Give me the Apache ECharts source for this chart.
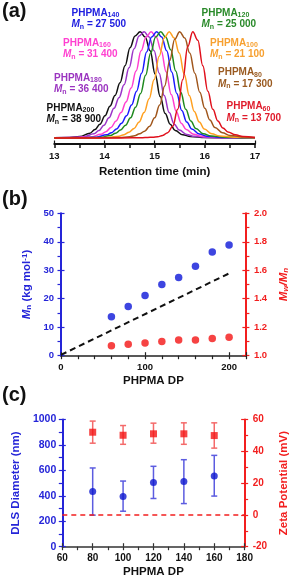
<!DOCTYPE html>
<html><head><meta charset="utf-8">
<script src="https://cdn.jsdelivr.net/npm/echarts@6/dist/echarts.min.js"></script>
<style>html,body{margin:0;padding:0;background:#fff}#c{width:298px;height:580px}</style>
</head><body><div id="c"></div>
<script>
// ---------------- Panel (a): GPC traces (retention time, normalised RI) ----------------
const gpcTickLabels = [13, 14, 15, 16, 17];
const gpcDP = ['200', '180', '160', '140', '120', '100', '80', '60'];
const gpcMn = ['38 900', '36 400', '31 400', '27 500', '25 000', '21 100', '17 300', '13 700'];
const trace200 = [[13.0,0.002],[13.3,0.006],[13.51,0.015],[13.71,0.045],[13.81,0.08],[13.91,0.13],[14.01,0.21],[14.11,0.30],[14.21,0.40],[14.31,0.52],[14.41,0.68],[14.51,0.85],[14.61,0.96],[14.71,1],[14.81,0.95],[14.91,0.82],[15.01,0.60],[15.11,0.39],[15.21,0.23],[15.31,0.13],[15.41,0.07],[15.56,0.03],[15.71,0.015],[16.01,0.005],[16.5,0.002],[17.0,0.001]];
const trace180 = [[13.0,0.002],[13.3,0.005],[13.59,0.012],[13.79,0.04],[13.89,0.07],[13.99,0.12],[14.09,0.19],[14.19,0.28],[14.29,0.38],[14.39,0.50],[14.49,0.66],[14.59,0.84],[14.69,0.96],[14.79,1],[14.89,0.95],[14.99,0.82],[15.09,0.61],[15.19,0.40],[15.29,0.24],[15.39,0.13],[15.49,0.075],[15.64,0.033],[15.79,0.016],[16.09,0.005],[16.6,0.002],[17.0,0.001]];
const trace160 = [[13.0,0.001],[13.4,0.004],[13.73,0.01],[13.93,0.035],[14.03,0.06],[14.13,0.10],[14.23,0.16],[14.33,0.24],[14.43,0.34],[14.53,0.47],[14.63,0.63],[14.73,0.82],[14.83,0.95],[14.93,1],[15.03,0.95],[15.13,0.82],[15.23,0.62],[15.33,0.41],[15.43,0.25],[15.53,0.14],[15.63,0.08],[15.78,0.035],[15.93,0.017],[16.23,0.006],[16.7,0.002],[17.0,0.001]];
const trace140 = [[13.0,0.001],[13.5,0.003],[13.84,0.008],[14.04,0.03],[14.14,0.05],[14.24,0.085],[14.34,0.14],[14.44,0.21],[14.54,0.31],[14.64,0.44],[14.74,0.61],[14.84,0.81],[14.94,0.95],[15.04,1],[15.14,0.95],[15.24,0.82],[15.34,0.62],[15.44,0.42],[15.54,0.26],[15.64,0.15],[15.74,0.085],[15.89,0.038],[16.04,0.018],[16.34,0.006],[16.8,0.002],[17.0,0.001]];
const trace120 = [[13.0,0.001],[13.5,0.002],[13.92,0.006],[14.12,0.025],[14.22,0.045],[14.32,0.075],[14.42,0.12],[14.52,0.19],[14.62,0.29],[14.72,0.42],[14.82,0.59],[14.92,0.80],[15.02,0.95],[15.12,1],[15.22,0.95],[15.32,0.83],[15.42,0.63],[15.52,0.43],[15.62,0.27],[15.72,0.16],[15.82,0.09],[15.97,0.04],[16.12,0.02],[16.42,0.007],[16.8,0.003],[17.0,0.002]];
const trace100 = [[13.0,0.001],[13.6,0.002],[14.09,0.005],[14.29,0.018],[14.39,0.032],[14.49,0.055],[14.59,0.09],[14.69,0.15],[14.79,0.24],[14.89,0.37],[14.99,0.55],[15.09,0.77],[15.19,0.94],[15.29,1],[15.39,0.94],[15.49,0.80],[15.59,0.60],[15.69,0.40],[15.79,0.25],[15.89,0.15],[15.99,0.085],[16.14,0.04],[16.29,0.02],[16.59,0.007],[17.0,0.002]];
const trace80 = [[13.0,0.001],[13.8,0.002],[14.30,0.004],[14.50,0.012],[14.60,0.022],[14.70,0.04],[14.80,0.065],[14.90,0.11],[15.00,0.19],[15.10,0.31],[15.20,0.49],[15.30,0.73],[15.40,0.93],[15.50,1],[15.60,0.94],[15.70,0.80],[15.80,0.61],[15.90,0.43],[16.00,0.28],[16.10,0.17],[16.20,0.10],[16.35,0.05],[16.50,0.025],[16.80,0.009],[17.0,0.005]];
const trace60 = [[13.0,0.001],[14.0,0.001],[14.56,0.002],[14.76,0.003],[14.86,0.005],[14.96,0.008],[15.06,0.012],[15.16,0.025],[15.26,0.05],[15.36,0.11],[15.46,0.27],[15.56,0.55],[15.66,0.86],[15.76,1],[15.86,0.92],[15.96,0.68],[16.06,0.44],[16.16,0.27],[16.26,0.16],[16.36,0.095],[16.46,0.058],[16.61,0.03],[16.76,0.015],[17.0,0.006]];

// ---------------- Panel (b): Mn and dispersity vs DP ----------------
const dpValues = [60, 80, 100, 120, 140, 160, 180, 200];
const mnValues = [13.7, 17.3, 21.1, 25.0, 27.5, 31.4, 36.4, 38.9];
const dispersity = [1.07, 1.08, 1.09, 1.10, 1.11, 1.11, 1.12, 1.13];
const theoryDP = [0, 200];
const theoryMn = [0.3, 28.9];
const dpTickLabelsB = [0, 100, 200];
const mnTickLabels = [0, 10, 20, 30, 40, 50];
const dispTickLabels = [1.0, 1.2, 1.4, 1.6, 1.8, 2.0];

// ---------------- Panel (c): DLS diameter and zeta potential vs DP ----------------
const dlsDP = [80, 100, 120, 140, 160];
const dlsDiameter = [434, 395, 505, 513, 556];
const dlsLow = [248, 279, 379, 339, 398];
const dlsHigh = [619, 516, 632, 684, 718];
const zetaPotential = [52.0, 50.1, 51.0, 51.0, 49.9];
const zetaLow = [45.1, 44.4, 45.1, 44.4, 42.0];
const zetaHigh = [59.0, 56.2, 57.7, 57.9, 57.9];
const dpTickLabelsC = [60, 80, 100, 120, 140, 160, 180];
const dlsTickLabels = [0, 200, 400, 600, 800, 1000];
const zetaTickLabels = [-20, 0, 20, 40, 60];

// ---------------- styles / layout ----------------
const FONT = '"Liberation Sans", Arial, Helvetica, sans-serif';
const BLACK = '#111111';
const BLUE = '#2525d8';
const RED = '#f21f1f';
const traces = [trace200, trace180, trace160, trace140, trace120, trace100, trace80, trace60];
const traceColors = ['#111111', '#9b35c8', '#ff3fd0', '#1a1aff', '#1f8a1f', '#ffa020', '#a0561c', '#e0101c'];
const labelColors = ['#111111', '#9b35c0', '#ff40d0', '#2020e0', '#2a8a2a', '#f7a030', '#9a5a20', '#e01c2c'];
const labelPos = [[46.5, 103], [54, 73], [63, 38], [71.5, 8], [201.5, 8], [210, 38], [218, 67.5], [226.5, 101.5]];

const has = (arr, v) => arr.some(t => Math.abs(t - v) < 1e-6);
const tickFmt = (arr, dec) => v => has(arr, v) ? (dec ? Number(v).toFixed(dec) : String(Math.round(v))) : '';
const lbl = (color, size) => ({color, fontWeight: 'bold', fontSize: size, fontFamily: FONT});
const nameStyle = (color) => ({color, fontWeight: 'bold', fontSize: 11.5, fontFamily: FONT});
const axLine = (color, width) => ({show: true, onZero: false, lineStyle: {color, width}});

function labelRich(color) {
  const base = {fill: color, color, fontFamily: FONT, fontWeight: 'bold'};
  return {
    t: Object.assign({}, base, {fontSize: 10, lineHeight: 11.5}),
    i: Object.assign({}, base, {fontSize: 10, fontStyle: 'italic', lineHeight: 11.5}),
    s: Object.assign({}, base, {fontSize: 7, verticalAlign: 'bottom'})
  };
}

function errorBar(color) {
  return function (params, api) {
    const x = api.value(0), lo = api.value(1), hi = api.value(2);
    const a = api.coord([x, hi]), b = api.coord([x, lo]);
    const w = 3;
    const st = {stroke: color, lineWidth: 1.5};
    return {type: 'group', children: [
      {type: 'line', shape: {x1: a[0], y1: a[1], x2: b[0], y2: b[1]}, style: st},
      {type: 'line', shape: {x1: a[0] - w, y1: a[1], x2: a[0] + w, y2: a[1]}, style: st},
      {type: 'line', shape: {x1: b[0] - w, y1: b[1], x2: b[0] + w, y2: b[1]}, style: st}
    ]};
  };
}

const chart = echarts.init(document.getElementById('c'), null, {renderer: 'canvas', width: 298, height: 580});

const crossAxis = (extra, color) => Object.assign({
  type: 'value', axisLine: {show: false, onZero: false}, axisLabel: {show: false}, splitLine: {show: false},
  axisTick: {show: true, inside: true, length: 3.5, lineStyle: {color, width: 1.2}}
}, extra);

const option = {
  backgroundColor: '#ffffff',
  animation: false,
  grid: [
    {left: 54.3, width: 200.7, top: 25, height: 119},
    {left: 61, width: 196.5, top: 213.3, height: 142.4},
    {left: 62.3, width: 190, top: 419.5, height: 127.2}
  ],
  xAxis: [
    {gridIndex: 0, type: 'value', position: 'bottom', min: 13, max: 17, interval: 0.5,
     axisLine: axLine(BLACK, 2),
     axisTick: {length: 4, lineStyle: {color: BLACK, width: 1.5}},
     axisLabel: Object.assign(lbl(BLACK, 9.5), {margin: 7, formatter: tickFmt(gpcTickLabels)}),
     splitLine: {show: false},
     name: 'Retention time (min)', nameLocation: 'middle', nameGap: 22, nameTextStyle: nameStyle(BLACK)},
    crossAxis({gridIndex: 0, position: 'bottom', min: 13, max: 17, interval: 1}, BLACK),
    {gridIndex: 1, type: 'value', position: 'bottom', min: 0, max: 220, interval: 20,
     axisLine: axLine('#222', 1.5),
     axisTick: {length: 3.5, lineStyle: {color: '#222', width: 1.2}},
     axisLabel: Object.assign(lbl(BLACK, 9.5), {margin: 7, formatter: tickFmt(dpTickLabelsB)}),
     splitLine: {show: false},
     name: 'PHPMA DP', nameLocation: 'middle', nameGap: 19.5, nameTextStyle: nameStyle(BLACK)},
    crossAxis({gridIndex: 1, position: 'bottom', min: 0, max: 220, interval: 100}, '#222'),
    {gridIndex: 2, type: 'value', position: 'bottom', min: 60, max: 180, interval: 10,
     axisLine: axLine('#333', 1.5),
     axisTick: {length: 3.5, lineStyle: {color: '#333', width: 1.2}},
     axisLabel: Object.assign(lbl(BLACK, 10), {margin: 7, formatter: tickFmt(dpTickLabelsC)}),
     splitLine: {show: false},
     name: 'PHPMA DP', nameLocation: 'middle', nameGap: 19.5, nameTextStyle: nameStyle(BLACK)},
    crossAxis({gridIndex: 2, position: 'bottom', min: 60, max: 180, interval: 20}, '#333')
  ],
  yAxis: [
    {gridIndex: 0, type: 'value', show: false, min: -0.056, max: 1.063, axisLine: {onZero: false}},
    {gridIndex: 1, type: 'value', position: 'left', min: 0, max: 50, interval: 5,
     axisLine: axLine(BLUE, 2),
     axisTick: {show: true, length: 3.5, lineStyle: {color: BLUE, width: 1.2}},
     axisLabel: Object.assign(lbl(BLUE, 9.5), {margin: 7, formatter: tickFmt(mnTickLabels)}),
     splitLine: {show: false},
     name: '{i|M}{sub|n}{t| (kg mol}{sup|-1}{t|)}', nameLocation: 'middle', nameGap: 28, nameRotate: 90,
     nameTextStyle: Object.assign(nameStyle(BLUE), {rich: {
       t: {color: BLUE, fontWeight: 'bold', fontSize: 11.5, fontFamily: FONT},
       i: {color: BLUE, fontWeight: 'bold', fontStyle: 'italic', fontSize: 11.5, fontFamily: FONT},
       sub: {color: BLUE, fontWeight: 'bold', fontSize: 8, fontFamily: FONT, verticalAlign: 'bottom'},
       sup: {color: BLUE, fontWeight: 'bold', fontSize: 8, fontFamily: FONT, verticalAlign: 'top'}}})},
    {gridIndex: 1, type: 'value', position: 'right', min: 1, max: 2, interval: 0.1,
     axisLine: axLine(RED, 2),
     axisTick: {show: true, length: 3.5, lineStyle: {color: RED, width: 1.2}},
     axisLabel: Object.assign(lbl(RED, 9.5), {margin: 8, formatter: tickFmt(dispTickLabels, 1)}),
     splitLine: {show: false},
     name: '{i|M}{sub|w}{i|/M}{sub|n}', nameLocation: 'middle', nameGap: 26, nameRotate: 90,
     nameTextStyle: Object.assign(nameStyle(RED), {rich: {
       i: {color: RED, fontWeight: 'bold', fontStyle: 'italic', fontSize: 11.5, fontFamily: FONT},
       sub: {color: RED, fontWeight: 'bold', fontStyle: 'italic', fontSize: 8, fontFamily: FONT, verticalAlign: 'bottom'}}})},
    crossAxis({gridIndex: 1, position: 'left', min: 0, max: 50, interval: 10}, BLUE),
    crossAxis({gridIndex: 1, position: 'right', min: 1, max: 2, interval: 0.2}, RED),
    {gridIndex: 2, type: 'value', position: 'left', min: 0, max: 1000, interval: 100,
     axisLine: axLine(BLUE, 2),
     axisTick: {show: true, length: 3.5, lineStyle: {color: BLUE, width: 1.2}},
     axisLabel: Object.assign(lbl(BLUE, 10.5), {margin: 6, formatter: tickFmt(dlsTickLabels)}),
     splitLine: {show: false},
     name: 'DLS Diameter (nm)', nameLocation: 'middle', nameGap: 31, nameRotate: 90, nameTextStyle: nameStyle(BLUE)},
    {gridIndex: 2, type: 'value', position: 'right', min: -20, max: 60, interval: 10,
     axisLine: axLine(RED, 2),
     axisTick: {show: true, length: 3.5, lineStyle: {color: RED, width: 1.2}},
     axisLabel: Object.assign(lbl(RED, 10), {margin: 8, formatter: tickFmt(zetaTickLabels)}),
     splitLine: {show: false},
     name: 'Zeta Potential (mV)', nameLocation: 'middle', nameGap: 26, nameRotate: 90, nameTextStyle: nameStyle(RED)},
    crossAxis({gridIndex: 2, position: 'left', min: 0, max: 1000, interval: 200}, BLUE),
    crossAxis({gridIndex: 2, position: 'right', min: -20, max: 60, interval: 20}, RED)
  ],
  series: [].concat(
    traces.map((d, i) => ({
      type: 'line', xAxisIndex: 0, yAxisIndex: 0, data: d, smooth: 0.4, smoothMonotone: 'x',
      showSymbol: false, silent: true, lineStyle: {color: traceColors[i], width: 1.5}
    })),
    [
      {type: 'line', xAxisIndex: 2, yAxisIndex: 1, data: theoryDP.map((x, i) => [x, theoryMn[i]]),
       showSymbol: false, silent: true, lineStyle: {color: BLACK, width: 2, type: [6, 4]}},
      {type: 'scatter', xAxisIndex: 2, yAxisIndex: 1, data: dpValues.map((x, i) => [x, mnValues[i]]),
       symbol: 'circle', symbolSize: 7.5, itemStyle: {color: '#0c16d8'}},
      {type: 'scatter', xAxisIndex: 2, yAxisIndex: 2, data: dpValues.map((x, i) => [x, dispersity[i]]),
       symbol: 'circle', symbolSize: 7.5, itemStyle: {color: '#f41414'}},
      {type: 'custom', xAxisIndex: 4, yAxisIndex: 5, data: dlsDP.map((x, i) => [x, dlsLow[i], dlsHigh[i]]),
       encode: {x: 0, y: [1, 2]}, renderItem: errorBar('#5c5ce0'), silent: true},
      {type: 'custom', xAxisIndex: 4, yAxisIndex: 6, data: dlsDP.map((x, i) => [x, zetaLow[i], zetaHigh[i]]),
       encode: {x: 0, y: [1, 2]}, renderItem: errorBar('#f46a6a'), silent: true},
      {type: 'scatter', xAxisIndex: 4, yAxisIndex: 5, data: dlsDP.map((x, i) => [x, dlsDiameter[i]]),
       symbol: 'circle', symbolSize: 7, itemStyle: {color: '#0c16d0'}, z: 5},
      {type: 'scatter', xAxisIndex: 4, yAxisIndex: 6, data: dlsDP.map((x, i) => [x, zetaPotential[i]]),
       symbol: 'rect', symbolSize: 7, itemStyle: {color: '#f41414'}, z: 5,
       markLine: {silent: true, symbol: 'none', label: {show: false},
         lineStyle: {color: RED, width: 1.5, type: [5, 4]}, data: [{yAxis: 0}]}}
    ]
  ),
  graphic: [].concat(
    [
      {type: 'text', left: 2, top: 1, style: {text: '(a)', font: 'bold 20px ' + FONT, fill: BLACK}},
      {type: 'text', left: 2, top: 189, style: {text: '(b)', font: 'bold 20px ' + FONT, fill: BLACK}},
      {type: 'text', left: 2, top: 385, style: {text: '(c)', font: 'bold 20px ' + FONT, fill: BLACK}}
    ],
    gpcDP.map((dp, i) => ({
      type: 'text', left: labelPos[i][0], top: labelPos[i][1], silent: true,
      style: {text: '{t|PHPMA}{s|' + dp + '}\n{i|M}{s|n}{t| = ' + gpcMn[i] + '}', rich: labelRich(labelColors[i]),
              fill: labelColors[i], font: 'bold 10px ' + FONT}
    }))
  )
};
chart.setOption(option);
</script>
</body></html>
